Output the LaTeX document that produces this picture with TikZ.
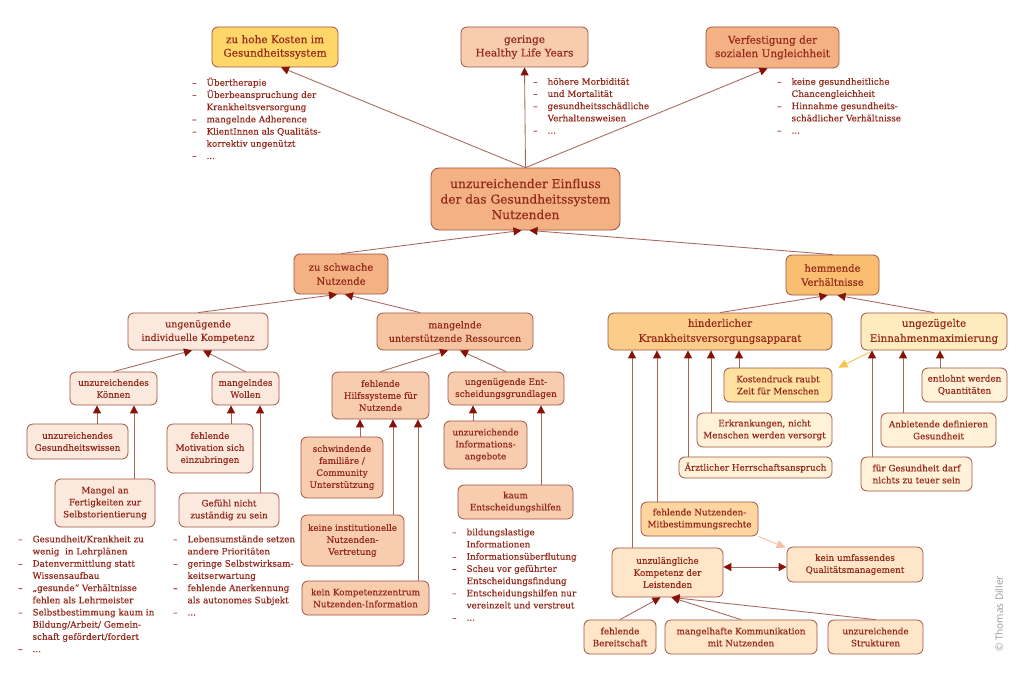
\documentclass[tikz,border=0pt]{standalone}
\usepackage{fontspec}
\setmainfont{DejaVu Serif}[FakeBold=0.25]
\newfontfamily\credfont{Open Sans}
\usetikzlibrary{arrows.meta,positioning}
\definecolor{ink}{RGB}{148,40,26}
\definecolor{rim}{RGB}{160,84,64}
\definecolor{wire}{RGB}{168,102,90}
\definecolor{tipred}{RGB}{135,18,8}
\definecolor{gold}{RGB}{255,214,104}
\definecolor{peach}{RGB}{248,204,175}
\definecolor{salmon}{RGB}{244,177,131}
\definecolor{blush}{RGB}{252,233,222}
\definecolor{apricot}{RGB}{246,196,160}
\definecolor{tangerine}{RGB}{250,190,112}
\definecolor{amberl}{RGB}{252,204,138}
\definecolor{butter}{RGB}{255,236,190}
\definecolor{honey}{RGB}{255,226,162}
\definecolor{cream}{RGB}{255,242,216}
\definecolor{melon}{RGB}{255,214,160}
\definecolor{bisque}{RGB}{255,230,200}
\definecolor{glow}{RGB}{245,196,70}
\definecolor{rosy}{RGB}{246,192,162}
\newcommand{\dashlist}[1]{\begin{tabular}{@{}l@{\hspace{10pt}}l@{}}#1\end{tabular}}
\tikzset{
  >={Triangle[length=8pt,width=8pt,color=tipred]},
  box/.style={draw=rim,fill=#1,rounded corners=6pt,line width=0.8pt,
    text=ink,align=center,inner sep=1pt},
  box/.default=blush,
  wh/.style 2 args={minimum width=#1pt,minimum height=#2pt},
  fbig/.style={font=\fontsize{10.5}{13.5}\selectfont},
  fcore/.style={font=\fontsize{12.2}{15.5}\selectfont},
  fmid/.style={font=\fontsize{10}{14}\selectfont},
  fsub/.style={font=\fontsize{9.5}{13.5}\selectfont},
  fwide/.style={font=\fontsize{10.3}{15}\selectfont},
  fsmall/.style={font=\fontsize{8.8}{12}\selectfont},
  listing/.style={anchor=north west,inner sep=0pt,text=ink,
    font=\fontsize{8.8}{12.2}\selectfont},
  link/.style={->,draw=wire,line width=0.85pt},
  soft/.style={-{Triangle[length=9pt,width=8pt]},draw=#1,line width=0.9pt},
}

\begin{document}
\begin{tikzpicture}[x=1pt,y=-1pt]
  \fill[white] (0,0) rectangle (1024,679);
  % consequences
  \node[box=gold,fbig,wh={126}{40}] (kosten) at (275,47) {zu hohe Kosten im\\Gesundheitssystem};
  \node[box=peach,fbig,wh={127}{40}] (hly) at (524.5,47) {geringe\\Healthy Life Years};
  \node[box=salmon,fbig,wh={133}{41}] (verf) at (772.5,47.5) {Verfestigung der\\sozialen Ungleichheit};
  \node[listing] (kostenlist) at (192,77) {\dashlist{– & Übertherapie\\ – & Überbeanspruchung der\\ & Krankheitsversorgung\\ – & mangelnde Adherence\\ – & KlientInnen als Qualitäts-\\ & korrektiv ungenützt\\ – & ...}};
  \node[listing] (hlylist) at (533,76) {\dashlist{– & höhere Morbidität\\ – & und Mortalität\\ – & gesundheitsschädliche\\ & Verhaltensweisen\\ – & ...}};
  \node[listing] (verflist) at (777,76) {\dashlist{– & keine gesundheitliche\\ & Chancengleichheit\\ – & Hinnahme gesundheits-\\ & schädlicher Verhältnisse\\ – & ...}};

  % core problem
  \node[box=salmon,fcore,wh={189}{62},rounded corners=8pt] (zentral) at (525.5,199) {unzureichender Einfluss\\der das Gesundheitssystem\\Nutzenden};
  \node[box=salmon,fmid,wh={94}{40}] (zsn) at (341,274) {zu schwache\\Nutzende};
  \node[box=tangerine,fmid,wh={93}{40}] (hvh) at (832.5,275) {hemmende\\Verhältnisse};

  % left branch
  \node[box,fsub,wh={140}{37}] (uik) at (198,331.5) {ungenügende\\individuelle Kompetenz};
  \node[box=apricot,fsub,wh={156}{37}] (mur) at (455,331.5) {mangelnde\\unterstützende Ressourcen};
  \node[box,fsmall,wh={87}{33}] (uk) at (113.5,388.5) {unzureichendes\\Können};
  \node[box,fsmall,wh={67}{33}] (mw) at (245.5,388.5) {mangelndes\\Wollen};
  \node[box,fsmall,wh={101}{35}] (ugw) at (77.5,441.5) {unzureichendes\\Gesundheitswissen};
  \node[box,fsmall,wh={100}{48}] (maf) at (105,503) {Mangel an\\Fertigkeiten zur\\Selbstorientierung};
  \node[box,fsmall,wh={86}{49}] (fms) at (210,448.5) {fehlende\\Motivation sich\\einzubringen};
  \node[box,fsmall,wh={100}{34}] (gnz) at (229,510) {Gefühl nicht\\zuständig zu sein};
  \node[listing] (maflist) at (18,533.5) {\dashlist{– & Gesundheit/Krankheit zu\\ & wenig\ \ in Lehrplänen\\ – & Datenvermittlung statt\\ & Wissensaufbau\\ – & „gesunde“ Verhältnisse\\ & fehlen als Lehrmeister\\ – & Selbstbestimmung kaum in\\ & Bildung/Arbeit/ Gemein-\\ & schaft gefördert/fordert\\ – & ...}};
  \node[listing] (gnzlist) at (173,533.5) {\dashlist{– & Lebensumstände setzen\\ & andere Prioritäten\\ – & geringe Selbstwirksam-\\ & keitserwartung\\ – & fehlende Anerkennung\\ & als autonomes Subjekt\\ – & ...}};

  \node[box=peach,fsmall,wh={97}{47}] (fhs) at (380.5,395.5) {fehlende\\Hilfssysteme für\\Nutzende};
  \node[box=peach,fsmall,wh={116}{33}] (ueg) at (506,388.5) {ungenügende Ent-\\scheidungsgrundlagen};
  \node[box=peach,fsmall,wh={82}{61}] (sfc) at (342,467.5) {schwindende\\familiäre /\\Community\\Unterstützung};
  \node[box=peach,fsmall,wh={103}{51}] (kin) at (352.5,540.5) {keine institutionelle\\Nutzenden-\\Vertretung};
  \node[box=peach,fsmall,wh={127}{34}] (kkn) at (365.5,598) {kein Kompetenzzentrum\\Nutzenden-Information};
  \node[box=peach,fsmall,wh={83}{48}] (uia) at (485.5,445) {unzureichende\\Informations-\\angebote};
  \node[box=peach,fsmall,wh={115}{34}] (keh) at (515.5,502) {kaum\\Entscheidungshilfen};
  \node[listing] (kehlist) at (452,526.5) {\dashlist{– & bildungslastige\\ & Informationen\\ – & Informationsüberflutung\\ – & Scheu vor geführter\\ & Entscheidungsfindung\\ – & Entscheidungshilfen nur\\ & vereinzelt und verstreut\\ – & ...}};

  % right branch
  \node[box=amberl,fwide,wh={224}{37}] (hka) at (720,331.5) {hinderlicher\\Krankheitsversorgungsapparat};
  \node[box=butter,fwide,wh={146}{37}] (uem) at (934,331.5) {ungezügelte\\Einnahmenmaximierung};
  \node[box=honey,fsmall,wh={108}{34}] (kdr) at (778,385) {Kostendruck raubt\\Zeit für Menschen};
  \node[box=cream,fsmall,wh={135}{34}] (enm) at (764.5,430) {Erkrankungen, nicht\\Menschen werden versorgt};
  \node[box=cream,fsmall,wh={153}{21}] (ahs) at (755.5,467.5) {Ärztlicher Herrschaftsanspruch};
  \node[box=melon,fsmall,wh={117}{34}] (fnm) at (699.5,519) {fehlende Nutzenden-\\Mitbestimmungsrechte};
  \node[box=bisque,fsmall,wh={111}{49}] (ukl) at (667.5,572.5) {unzulängliche\\Kompetenz der\\Leistenden};
  \node[box=bisque,fsmall,wh={136}{35}] (kuq) at (855,564.5) {kein umfassendes\\Qualitätsmanagement};
  \node[box=bisque,fsmall,wh={72}{34}] (fbs) at (620,637) {fehlende\\Bereitschaft};
  \node[box=bisque,fsmall,wh={152}{34}] (mkn) at (741,637) {mangelhafte Kommunikation\\mit Nutzenden};
  \node[box=bisque,fsmall,wh={95}{34}] (ust) at (875.5,637) {unzureichende\\Strukturen};
  \node[box=cream,fsmall,wh={85}{34}] (ewq) at (964.5,385) {entlohnt werden\\Quantitäten};
  \node[box=cream,fsmall,wh={115}{34}] (adg) at (938.5,430) {Anbietende definieren\\Gesundheit};
  \node[box=cream,fsmall,wh={111}{34}] (fgd) at (916.5,474) {für Gesundheit darf\\nichts zu teuer sein};

  \node[rotate=90,text=black!40,font=\credfont\fontsize{10}{12}\selectfont] (credit) at (999,614) {© Thomas Diller};

  % connectors
  \draw[link] (zentral.north) -- ([xshift=6pt]kosten.south);
  \draw[link] (zentral.north) -- (hly.south);
  \draw[link] (zentral.north) -- ([xshift=-5pt]verf.south);
  \foreach \c/\p/\dx in {zsn/zentral/-4,hvh/zentral/4,uik/zsn/-4,hka/hvh/-5,uem/hvh/5,
      uk/uik/-6,mw/uik/5,fhs/mur/-7,ueg/mur/5,fbs/ukl/-7,mkn/ukl/4,ust/ukl/4}
    \draw[link] (\c.north) -- ([xshift=\dx pt]\p.south);
  \draw[link] ([xshift=-35pt]mur.north) -- ([xshift=4pt]zsn.south);
  \foreach \c/\p/\dx in {ugw/uk/-16.5,maf/uk/20.5,fms/mw/-14.5,gnz/mw/14.5,
      sfc/fhs/-20.5,kin/fhs/12.5,kkn/fhs/37.5,uia/ueg/-33,keh/ueg/35,
      ukl/hka/-88,fnm/hka/-63,ahs/hka/-32,enm/hka/-9,kdr/hka/19,
      fgd/uem/-62,adg/uem/-31,ewq/uem/6}
    \draw[link] ([xshift=\dx pt]\p.south |- \c.north) -- ([xshift=\dx pt]\p.south);
  \draw[link,<->] ([yshift=5.5pt]ukl.east) -- ([yshift=5.5pt]ukl.east -| kuq.west);
  \draw[soft=rosy] (fnm.south east) -- ([xshift=-1pt,yshift=-1pt]kuq.north west);
  \draw[soft=glow] ([xshift=9pt,yshift=-2pt]uem.south west) -- ([xshift=6pt]kdr.north east);
\end{tikzpicture}
\end{document}
